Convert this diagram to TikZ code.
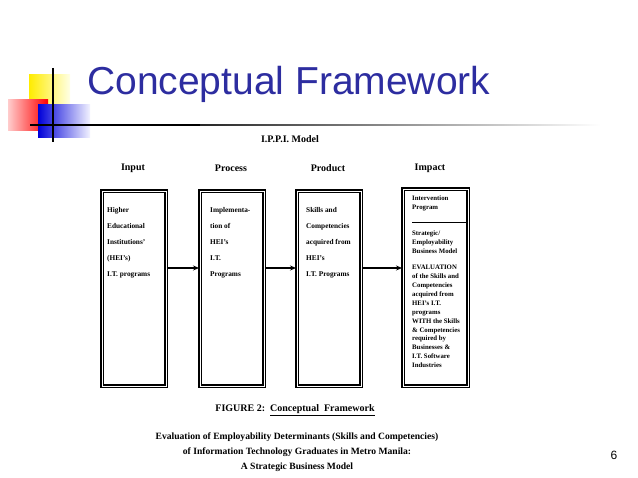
\documentclass[tikz,border=0pt]{standalone}
\usepackage{fontspec}
\usetikzlibrary{arrows.meta}
\setmainfont{Liberation Serif}
\newfontfamily\arialf{Liberation Sans}
\definecolor{titleblue}{RGB}{45,45,160}
\begin{document}
\begin{tikzpicture}[x=1pt,y=-1pt,
  box/.style={draw,line width=1.8pt,double,double distance=0.6pt},
  arr/.style={-{Stealth[length=6pt,width=5pt]},line width=1.1pt},
  head/.style={font=\bfseries\fontsize{10}{11}\selectfont},
  txt/.style={font=\bfseries\fontsize{7.3}{16}\selectfont,align=left,anchor=north west,inner sep=0pt},
  txs/.style={font=\bfseries\fontsize{6.8}{8.9}\selectfont,align=left,anchor=north west,inner sep=0pt}]
\useasboundingbox (0,0) rectangle (638,478);
% decoration
\shade[left color=yellow!85!orange,right color=yellow!10] (29,75) rectangle (70,112);
\shade[left color=red!20,right color=red] (8,100) rectangle (48,131);
\shade[left color=blue!85!black,right color=blue!5] (38,105) rectangle (90,138);
\draw[line width=1.2pt] (53,68) -- (53,142);
\draw[line width=1.2pt] (30,125) -- (200,125);
\shade[left color=black!85,right color=white] (200,124.4) rectangle (600,125.6);
\node[anchor=west,text=titleblue,font=\arialf\fontsize{39}{40}\selectfont,inner sep=0pt] (title) at (87,84) {Conceptual Framework};
% figure
\node[font=\bfseries\fontsize{10}{11}\selectfont] (model) at (290,139) {I.P.P.I. Model};
\node[head] (hin) at (133,168) {Input};
\node[head] (hpr) at (231,168) {Process};
\node[head] (hpd) at (328,168) {Product};
\node[head] (him) at (430,168) {Impact};
\node[box,minimum width=64,minimum height=195,anchor=north west] (in) at (101,190) {};
\node[box,minimum width=64,minimum height=195,anchor=north west] (pr) at (199,190) {};
\node[box,minimum width=64,minimum height=195,anchor=north west] (pd) at (296,190) {};
\node[box,minimum width=65,minimum height=197,anchor=north west] (im) at (402,188) {};
\node[txt] (tin) at (107,207) {Higher\\Educational\\Institutions'\\(HEI's)\\I.T. programs};
\node[txt] (tpr) at (210,207) {Implementa-\\tion of\\HEI's\\I.T.\\Programs};
\node[txt] (tpd) at (306,207) {Skills and\\Competencies\\acquired from\\HEI's\\I.T. Programs};
\node[txs] (tim1) at (412,196) {Intervention\\Program};
\draw[line width=0.6pt] (412,222) -- (466,222);
\node[txs] (tim2) at (412,231) {Strategic/\\Employability\\Business Model};
\node[txs] (tim3) at (412,265) {EVALUATION\\of the Skills and\\Competencies\\acquired from\\HEI's I.T.\\programs\\WITH the Skills\\\& Competencies\\required by\\Businesses \&\\I.T. Software\\Industries};
\draw[arr] (in.east |- 0,268) -- (pr.west |- 0,268);
\draw[arr] (pr.east |- 0,268) -- (pd.west |- 0,268);
\draw[arr] (pd.east |- 0,268) -- (im.west |- 0,268);
\node[font=\bfseries\fontsize{10}{11}\selectfont] (cap) at (295,410) {FIGURE 2:\ \ \underline{Conceptual\ \ Framework}};
\node[font=\bfseries\fontsize{9.6}{15}\selectfont,align=center] (sub) at (297,452) {Evaluation of Employability Determinants (Skills and Competencies)\\of Information Technology Graduates in Metro Manila:\\A Strategic Business Model};
\node[font=\arialf\fontsize{12}{14}\selectfont] (pg) at (614,455) {6};
\end{tikzpicture}
\end{document}
